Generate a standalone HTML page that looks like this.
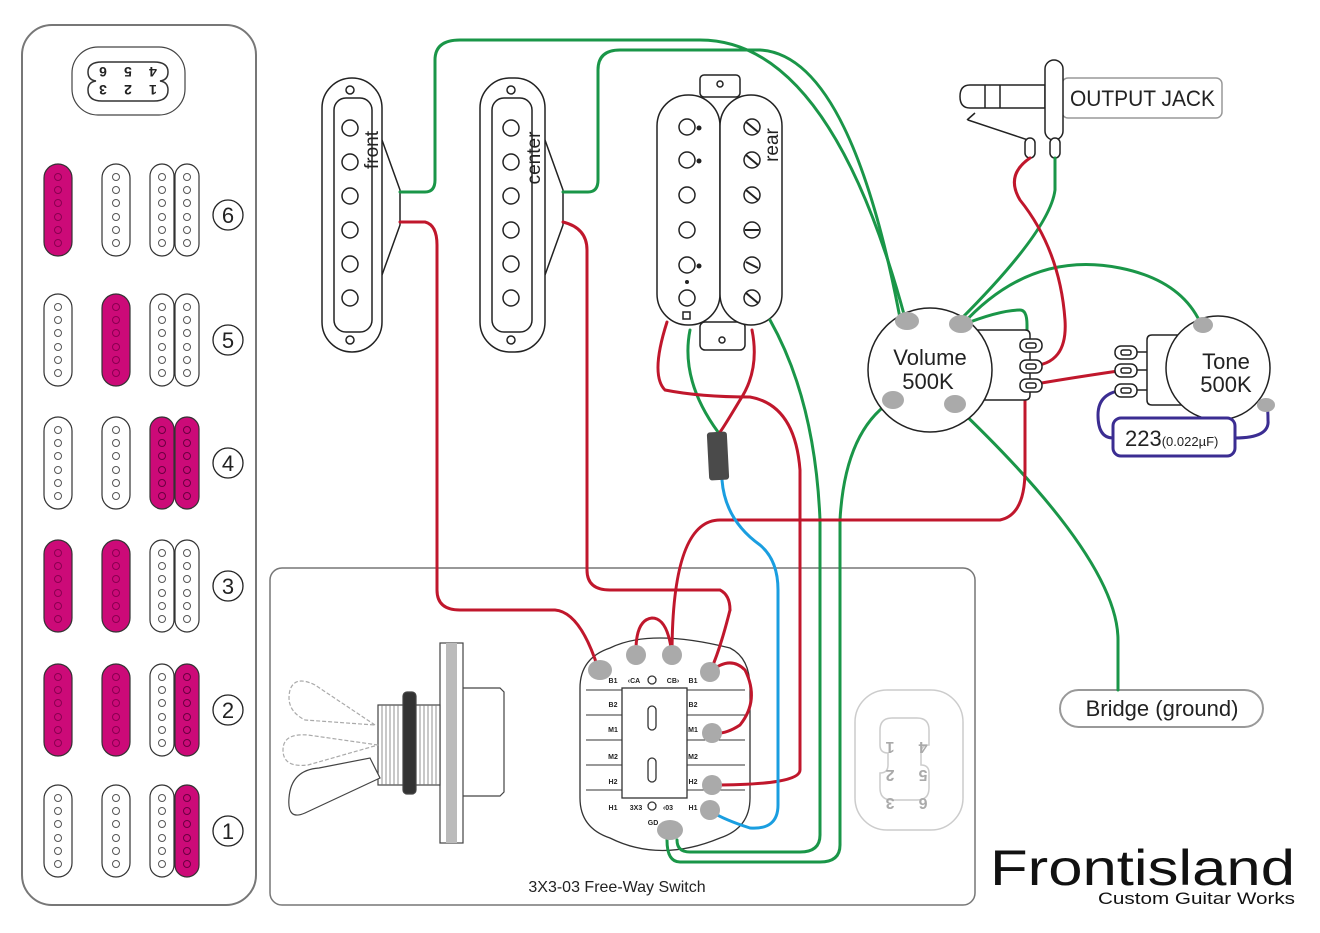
<!DOCTYPE html>
<html><head><meta charset="utf-8"><style>
html,body{margin:0;padding:0;background:#fff;}
svg{display:block;font-family:"Liberation Sans",sans-serif;}
</style></head><body>
<svg width="1320" height="933" viewBox="0 0 1320 933" xmlns="http://www.w3.org/2000/svg">
<defs>
<g id="sc"><rect x="-14" y="-46" width="28" height="92" rx="14" fill="#fff" stroke="#333" stroke-width="1.2"/>
<g fill="none" stroke="#555" stroke-width="1"><circle cx="0" cy="-33" r="3.5"/><circle cx="0" cy="-20" r="3.5"/><circle cx="0" cy="-7" r="3.5"/><circle cx="0" cy="7" r="3.5"/><circle cx="0" cy="20" r="3.5"/><circle cx="0" cy="33" r="3.5"/></g></g>
<g id="scm"><rect x="-14" y="-46" width="28" height="92" rx="14" fill="#cc0a78" stroke="#333" stroke-width="1.2"/>
<g fill="none" stroke="#8a0050" stroke-width="1"><circle cx="0" cy="-33" r="3.5"/><circle cx="0" cy="-20" r="3.5"/><circle cx="0" cy="-7" r="3.5"/><circle cx="0" cy="7" r="3.5"/><circle cx="0" cy="20" r="3.5"/><circle cx="0" cy="33" r="3.5"/></g></g>
<g id="hc"><rect x="-12" y="-46" width="24" height="92" rx="12" fill="#fff" stroke="#333" stroke-width="1.2"/>
<g fill="none" stroke="#555" stroke-width="1"><circle cx="0" cy="-33" r="3.5"/><circle cx="0" cy="-20" r="3.5"/><circle cx="0" cy="-7" r="3.5"/><circle cx="0" cy="7" r="3.5"/><circle cx="0" cy="20" r="3.5"/><circle cx="0" cy="33" r="3.5"/></g></g>
<g id="hcm"><rect x="-12" y="-46" width="24" height="92" rx="12" fill="#cc0a78" stroke="#333" stroke-width="1.2"/>
<g fill="none" stroke="#6a0040" stroke-width="1"><circle cx="0" cy="-33" r="3.5"/><circle cx="0" cy="-20" r="3.5"/><circle cx="0" cy="-7" r="3.5"/><circle cx="0" cy="7" r="3.5"/><circle cx="0" cy="20" r="3.5"/><circle cx="0" cy="33" r="3.5"/></g></g>
</defs>

<!-- Left legend panel -->
<rect x="22" y="25" width="234" height="880" rx="30" fill="#fff" stroke="#777" stroke-width="2"/>
<rect x="72" y="47" width="113" height="68" rx="26" fill="#fff" stroke="#444" stroke-width="1.2"/>
<path d="M102 62 q-14 0 -14 10 q0 8 8 9 q-8 1 -8 9 q0 11 14 11 h52 q14 0 14 -11 q0 -8 -8 -9 q8 -1 8 -9 q0 -10 -14 -10z" fill="#fff" stroke="#333" stroke-width="1.5"/>
<g font-size="14" font-weight="bold" fill="#222" text-anchor="middle" transform="rotate(180 128 82)">
<text x="103" y="79">1</text><text x="128" y="79">2</text><text x="153" y="79">3</text>
<text x="103" y="97">4</text><text x="128" y="97">5</text><text x="153" y="97">6</text></g>

<!-- rows -->
<g>
<use href="#scm" x="58" y="210"/><use href="#sc" x="116" y="210"/><use href="#hc" x="162" y="210"/><use href="#hc" x="187" y="210"/>
<use href="#sc" x="58" y="340"/><use href="#scm" x="116" y="340"/><use href="#hc" x="162" y="340"/><use href="#hc" x="187" y="340"/>
<use href="#sc" x="58" y="463"/><use href="#sc" x="116" y="463"/><use href="#hcm" x="162" y="463"/><use href="#hcm" x="187" y="463"/>
<use href="#scm" x="58" y="586"/><use href="#scm" x="116" y="586"/><use href="#hc" x="162" y="586"/><use href="#hc" x="187" y="586"/>
<use href="#scm" x="58" y="710"/><use href="#scm" x="116" y="710"/><use href="#hc" x="162" y="710"/><use href="#hcm" x="187" y="710"/>
<use href="#sc" x="58" y="831"/><use href="#sc" x="116" y="831"/><use href="#hc" x="162" y="831"/><use href="#hcm" x="187" y="831"/>
</g>
<g fill="#fff" stroke="#222" stroke-width="1.3">
<circle cx="228" cy="215" r="15"/><circle cx="228" cy="340" r="15"/><circle cx="228" cy="463" r="15"/><circle cx="228" cy="586" r="15"/><circle cx="228" cy="710" r="15"/><circle cx="228" cy="831" r="15"/></g>
<g font-size="22" fill="#222" text-anchor="middle">
<text x="228" y="223">6</text><text x="228" y="348">5</text><text x="228" y="471">4</text><text x="228" y="594">3</text><text x="228" y="718">2</text><text x="228" y="839">1</text></g>

<!-- switch panel -->
<rect x="270" y="568" width="705" height="337" rx="12" fill="#fff" stroke="#777" stroke-width="1.5"/>
<text x="617" y="892" font-size="16" text-anchor="middle" fill="#222">3X3-03 Free-Way Switch</text>

<!-- toggle lever graphic -->
<g stroke="#444" fill="none" stroke-width="1.2">
<rect x="440" y="643" width="23" height="200" fill="#fff"/><rect x="446" y="643" width="11" height="200" fill="#bbb" stroke="none"/>
<path d="M463 688 h37 l4 4 v100 l-4 4 h-37"/>
<rect x="378" y="705" width="62" height="80" fill="#fff"/>
<g stroke="#777" stroke-width="0.8"><path d="M382 705v80M386 705v80M390 705v80M394 705v80M398 705v80M420 705v80M424 705v80M428 705v80M432 705v80M436 705v80"/></g>
<rect x="403" y="692" width="13" height="102" rx="4" fill="#333"/>
<path d="M370 758 l10 20 l-75 35 q-18 8 -16 -15 q2 -28 30 -30z" fill="#fff"/>
<path d="M378 745 l-70 -10 q-25 -2 -25 15 q0 18 25 15 z" stroke="#aaa" stroke-dasharray="4 2"/>
<path d="M375 725 l-60 -40 q-20 -10 -25 5 q-5 20 15 30 z" stroke="#aaa" stroke-dasharray="4 2"/>
</g>

<!-- switch body -->
<g stroke="#333" stroke-width="1.3" fill="#fff">
<path d="M610 648 q40 -20 120 0 q20 10 20 40 v110 q0 30 -30 40 q-60 25 -110 0 q-30 -10 -30 -40 v-110 q0 -30 30 -40z"/>
<rect x="622" y="688" width="65" height="110" fill="#fff"/>
<rect x="648" y="706" width="8" height="24" rx="4"/><rect x="648" y="758" width="8" height="24" rx="4"/>
<circle cx="652" cy="680" r="4"/><circle cx="652" cy="806" r="4"/>
<g stroke-width="1"><path d="M586 690h36M586 715h36M586 740h36M586 765h36M586 790h36M687 690h58M687 715h58M687 740h58M687 765h58M687 790h58"/></g>
</g>
<g font-size="7" font-weight="bold" fill="#222" text-anchor="middle">
<text x="613" y="683">B1</text><text x="634" y="683">‹CA</text><text x="673" y="683">CB›</text><text x="693" y="683">B1</text>
<text x="613" y="707">B2</text><text x="693" y="707">B2</text>
<text x="613" y="732">M1</text><text x="693" y="732">M1</text>
<text x="613" y="759">M2</text><text x="693" y="759">M2</text>
<text x="613" y="784">H2</text><text x="693" y="784">H2</text>
<text x="613" y="810">H1</text><text x="636" y="810">3X3</text><text x="668" y="810">‹03</text><text x="693" y="810">H1</text>
<text x="653" y="825">GD</text></g>

<!-- connector icon in switch panel -->
<g stroke="#ccc" stroke-width="1.5" fill="#fff">
<rect x="855" y="690" width="108" height="140" rx="32"/>
<path d="M880 730 q0-12 12-12 h25 q12 0 12 12 v15 q-8 0 -8 8 v12 q8 0 8 8 v15 q0 12 -12 12 h-25 q-12 0 -12 -12 v-15 q8 0 8 -8 v-12 q-8 0 -8 -8z"/>
</g>
<g fill="#aaa" font-size="16" font-weight="bold" text-anchor="middle">
<text x="890" y="752" transform="rotate(180 890 747)">1</text><text x="890" y="780" transform="rotate(180 890 775)">2</text><text x="890" y="808" transform="rotate(180 890 803)">3</text>
<text x="923" y="752" transform="rotate(180 923 747)">4</text><text x="923" y="780" transform="rotate(180 923 775)">5</text><text x="923" y="808" transform="rotate(180 923 803)">6</text></g>

<!-- Pickups -->
<g stroke="#222" stroke-width="1.5" fill="#fff">
<path d="M382 140 L400 190 V225 L382 275"/>
<rect x="322" y="78" width="60" height="274" rx="30"/>
<rect x="334" y="98" width="38" height="234" rx="12"/>
<path d="M545 140 L563 190 V225 L545 275"/>
<rect x="480" y="78" width="65" height="274" rx="30"/>
<rect x="492" y="98" width="40" height="234" rx="12"/>
<circle cx="350" cy="90" r="4"/><circle cx="350" cy="340" r="4"/><circle cx="511" cy="90" r="4"/><circle cx="511" cy="340" r="4"/>
<g><circle cx="350" cy="128" r="8"/><circle cx="350" cy="162" r="8"/><circle cx="350" cy="196" r="8"/><circle cx="350" cy="230" r="8"/><circle cx="350" cy="264" r="8"/><circle cx="350" cy="298" r="8"/>
<circle cx="511" cy="128" r="8"/><circle cx="511" cy="162" r="8"/><circle cx="511" cy="196" r="8"/><circle cx="511" cy="230" r="8"/><circle cx="511" cy="264" r="8"/><circle cx="511" cy="298" r="8"/></g>
<rect x="700" y="75" width="40" height="22" rx="4"/><rect x="700" y="322" width="45" height="28" rx="5"/>
<rect x="657" y="95" width="63" height="230" rx="31"/><rect x="720" y="95" width="62" height="230" rx="31"/>
<circle cx="720" cy="84" r="3"/><circle cx="722" cy="340" r="3"/>
<g><circle cx="687" cy="127" r="8"/><circle cx="687" cy="160" r="8"/><circle cx="687" cy="195" r="8"/><circle cx="687" cy="230" r="8"/><circle cx="687" cy="265" r="8"/><circle cx="687" cy="298" r="8"/>
<circle cx="752" cy="127" r="8"/><circle cx="752" cy="160" r="8"/><circle cx="752" cy="195" r="8"/><circle cx="752" cy="230" r="8"/><circle cx="752" cy="265" r="8"/><circle cx="752" cy="298" r="8"/></g>
<rect x="683" y="312" width="7" height="7"/>
</g>
<g stroke="#222" stroke-width="2"><path d="M746 122l12 10M746 155l12 10M746 190l12 10M745 230h14M746 262l12 6M746 293l12 10"/></g>
<g fill="#222"><circle cx="699" cy="128" r="2.5"/><circle cx="699" cy="161" r="2.5"/><circle cx="699" cy="266" r="2.5"/><circle cx="687" cy="282" r="2"/></g>
<text x="371" y="157" font-size="19" fill="#222" text-anchor="middle" transform="rotate(-90 371 150)">front</text>
<text x="533" y="165" font-size="19" fill="#222" text-anchor="middle" transform="rotate(-90 533 158)">center</text>
<text x="771" y="152" font-size="19" fill="#222" text-anchor="middle" transform="rotate(-90 771 145)">rear</text>

<!-- Output jack -->
<rect x="1062" y="78" width="160" height="40" rx="6" fill="#fff" stroke="#999" stroke-width="1.5"/>
<text x="1070" y="106" font-size="22" fill="#222" textLength="145" lengthAdjust="spacingAndGlyphs">OUTPUT JACK</text>
<g stroke="#222" stroke-width="1.5" fill="#fff">
<path d="M970 85 h75 v23 h-75 q-10 0 -10 -11.5 q0 -11.5 10 -11.5z"/>
<path d="M985 85v23M1000 85v23"/>
<rect x="1045" y="60" width="18" height="80" rx="9"/>
<path d="M968 120 l60 20 M975 113 l-8 7"/>
<rect x="1025" y="138" width="10" height="20" rx="5"/><rect x="1050" y="138" width="10" height="20" rx="5"/>
</g>

<!-- Bridge -->
<rect x="1060" y="690" width="203" height="37" rx="18.5" fill="#fff" stroke="#999" stroke-width="2"/>
<text x="1162" y="716" font-size="22" text-anchor="middle" fill="#222">Bridge (ground)</text>

<!-- Wires -->
<g fill="none" stroke-width="3" stroke-linecap="round">
<g stroke="#1a9648">
<path d="M400 192 H425 Q435 192 435 180 V60 Q435 40 460 40 H700 Q830 40 905 318"/>
<path d="M563 192 H588 Q598 192 598 180 V70 Q598 50 620 50 H760 Q850 55 900 318"/>
<path d="M690 330 Q680 380 718 432"/>
<path d="M770 320 Q815 400 820 520 V835 Q820 852 800 852 H690 Q677 852 677 840"/>
<path d="M893 400 Q845 430 840 520 V845 Q840 862 820 862 H680 Q667 862 667 840"/>
<path d="M955 405 Q1118 560 1118 640 V690"/>
<path d="M1055 158 V190 Q1050 230 960 320"/>
<path d="M962 325 Q1030 250 1120 268 Q1180 280 1200 322"/>
<path d="M962 325 Q1000 310 1020 310 Q1027 310 1027 325 V345"/>
</g>
<g stroke="#c0172c">
<path d="M400 222 H425 Q437 225 437 245 V590 Q437 610 460 610 H555 Q580 612 598 668"/>
<path d="M563 222 Q587 228 587 250 V570 Q587 590 610 590 H720 Q730 595 730 610"/>
<path d="M730 610 Q720 650 710 672"/>
<path d="M636 655 Q635 620 652 618 Q668 618 672 655"/>
<path d="M672 655 Q672 520 720 520 H1000 Q1025 515 1025 470 V390"/>
<path d="M710 672 Q730 655 745 670 Q760 700 740 725 Q725 735 712 733"/>
<path d="M667 322 Q650 375 665 390 Q700 397 750 397 Q795 405 800 470 V770 Q800 785 712 785"/>
<path d="M752 330 Q760 370 740 400 Q722 430 720 432"/>
<path d="M1030 366 Q1068 365 1065 320 Q1060 250 1020 200 Q1005 175 1030 158"/>
<path d="M1030 385 Q1070 378 1125 370"/>
</g>
<path stroke="#1a9ee0" d="M722 480 Q725 520 760 545 Q778 560 778 590 V805 Q778 830 750 828 Q725 820 712 812"/>
<path stroke="#3b2d92" d="M1125 390 Q1098 392 1098 415 Q1098 438 1113 438"/>
<path stroke="#3b2d92" d="M1235 438 Q1270 438 1268 420 Q1268 410 1267 405"/>
</g>
<rect x="708" y="432" width="20" height="48" rx="3" fill="#4a4a4a" transform="rotate(-3 718 456)"/>

<g fill="#aaa">
<ellipse cx="600" cy="670" rx="12" ry="10"/><ellipse cx="636" cy="655" rx="10" ry="10"/><ellipse cx="672" cy="655" rx="10" ry="10"/><ellipse cx="710" cy="672" rx="10" ry="10"/>
<ellipse cx="712" cy="733" rx="10" ry="10"/><ellipse cx="712" cy="785" rx="10" ry="10"/><ellipse cx="710" cy="810" rx="10" ry="10"/><ellipse cx="670" cy="830" rx="13" ry="10"/>
</g>

<!-- Volume -->
<g stroke="#222" stroke-width="1.5" fill="#fff">
<path d="M968 330 H1025 Q1030 330 1030 335 V395 Q1030 400 1025 400 H968z"/>
<circle cx="930" cy="370" r="62"/>
<path d="M1030 345h12M1030 366h12M1030 385h12"/>
<rect x="1020" y="339" width="22" height="13" rx="6"/><rect x="1020" y="360" width="22" height="13" rx="6"/><rect x="1020" y="379" width="22" height="13" rx="6"/>
<rect x="1026" y="343" width="10" height="5" rx="2"/><rect x="1026" y="364" width="10" height="5" rx="2"/><rect x="1026" y="383" width="10" height="5" rx="2"/>
</g>
<g fill="#aaa"><ellipse cx="907" cy="321" rx="12" ry="9"/><ellipse cx="961" cy="324" rx="12" ry="9"/><ellipse cx="893" cy="400" rx="11" ry="9"/><ellipse cx="955" cy="404" rx="11" ry="9"/></g>
<text x="930" y="365" font-size="22" text-anchor="middle" fill="#222">Volume</text>
<text x="928" y="389" font-size="22" text-anchor="middle" fill="#222">500K</text>

<!-- Tone -->
<g stroke="#222" stroke-width="1.5" fill="#fff">
<path d="M1185 335 H1152 Q1147 335 1147 340 V400 Q1147 405 1152 405 H1185z"/>
<circle cx="1218" cy="368" r="52"/>
<path d="M1135 352h12M1135 370h12M1135 390h12"/>
<rect x="1115" y="346" width="22" height="13" rx="6"/><rect x="1115" y="364" width="22" height="13" rx="6"/><rect x="1115" y="384" width="22" height="13" rx="6"/>
<rect x="1121" y="350" width="10" height="5" rx="2"/><rect x="1121" y="368" width="10" height="5" rx="2"/><rect x="1121" y="388" width="10" height="5" rx="2"/>
</g>
<g fill="#aaa"><ellipse cx="1203" cy="325" rx="10" ry="8"/><ellipse cx="1266" cy="405" rx="9" ry="7"/></g>
<text x="1226" y="369" font-size="22" text-anchor="middle" fill="#222">Tone</text>
<text x="1226" y="392" font-size="22" text-anchor="middle" fill="#222">500K</text>
<rect x="1113" y="418" width="122" height="38" rx="8" fill="#fff" stroke="#3b2d92" stroke-width="3"/>
<text x="1125" y="446" font-size="22" fill="#222">223<tspan font-size="13">(0.022µF)</tspan></text>

<!-- Logo -->
<text x="990" y="885" font-size="50" fill="#111" textLength="305" lengthAdjust="spacingAndGlyphs" style="font-weight:300">Frontisland</text>
<text x="1098" y="904" font-size="17" fill="#111" textLength="197" lengthAdjust="spacingAndGlyphs">Custom Guitar Works</text>
</svg>
</body></html>
